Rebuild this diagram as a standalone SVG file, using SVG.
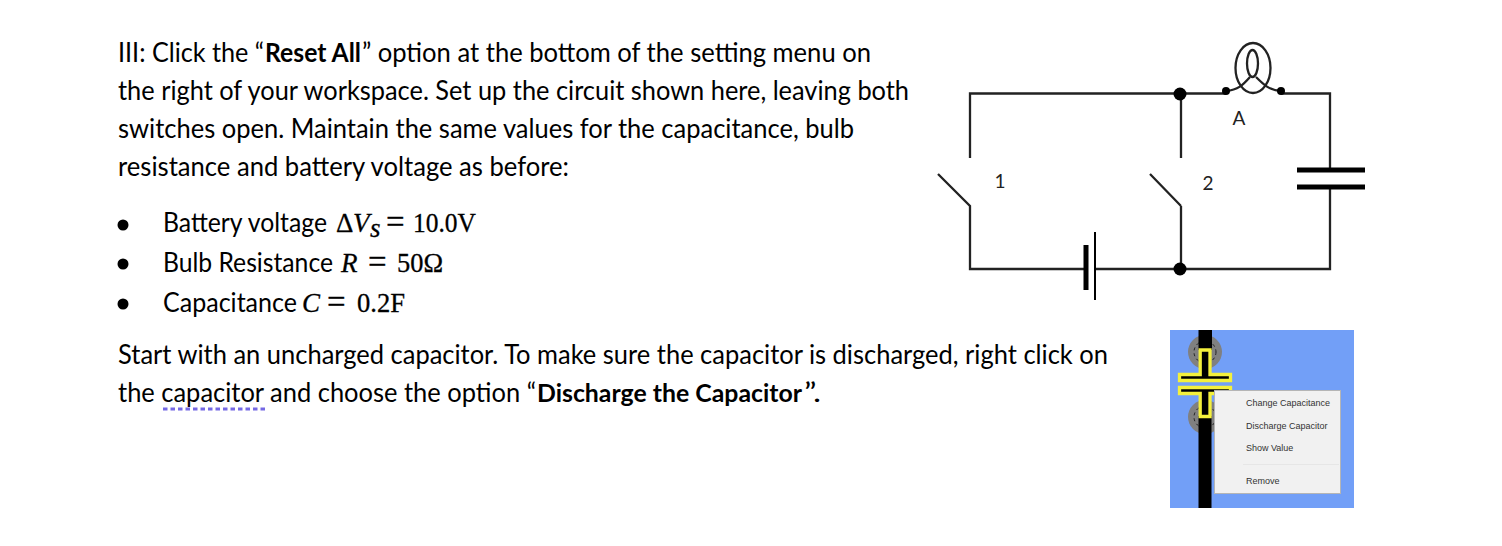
<svg xmlns="http://www.w3.org/2000/svg" width="1502" height="546" viewBox="0 0 1502 546">
<style>
.t{font-family:Lato,"Open Sans",sans-serif;font-size:26px;fill:#000}
.b{font-weight:700}
.m{font-family:"Liberation Serif","DejaVu Serif",serif;font-size:27px;fill:#000;stroke:#000;stroke-width:.3}
.e{font-size:33px}
.i{font-style:italic}
.w{fill:none;stroke:#222;stroke-width:2.300}
.l{font-family:Lato,"Liberation Sans",sans-serif;font-size:19px;fill:#222}
.c{font-family:"Liberation Sans",sans-serif;font-size:9px;fill:#333}
</style>
<rect width="1502" height="546" fill="#fff"/>
<g id="instructions">
<text class="t" x="118" y="62" textLength="146" lengthAdjust="spacingAndGlyphs">III: Click the “</text>
<text class="t b" x="265" y="62" textLength="96" lengthAdjust="spacingAndGlyphs">Reset All</text>
<text class="t" x="362" y="62" textLength="509" lengthAdjust="spacingAndGlyphs">” option at the bottom of the setting menu on</text>
<text class="t" x="118" y="100" textLength="791" lengthAdjust="spacingAndGlyphs">the right of your workspace. Set up the circuit shown here, leaving both</text>
<text class="t" x="118" y="138" textLength="736" lengthAdjust="spacingAndGlyphs">switches open. Maintain the same values for the capacitance, bulb</text>
<text class="t" x="118" y="176" textLength="451" lengthAdjust="spacingAndGlyphs">resistance and battery voltage as before:</text>
</g>
<g id="values">
<circle cx="123" cy="225" r="5.500"/><circle cx="123" cy="264" r="5.500"/><circle cx="123" cy="304" r="5.500"/>
<text class="t" x="163" y="232" textLength="164" lengthAdjust="spacingAndGlyphs">Battery voltage</text>
<text class="m" x="336" y="232">Δ</text>
<text class="m i" x="353" y="232">V</text>
<text class="m i" x="370" y="237" font-size="19">s</text>
<text class="m e" x="386" y="233">=</text>
<text class="m" x="413" y="232" textLength="63" lengthAdjust="spacingAndGlyphs">10.0V</text>
<text class="t" x="163" y="272" textLength="170" lengthAdjust="spacingAndGlyphs">Bulb Resistance</text>
<text class="m i" x="341" y="272">R</text>
<text class="m e" x="368" y="273">=</text>
<text class="m" x="397" y="272" textLength="46" lengthAdjust="spacingAndGlyphs">50Ω</text>
<text class="t" x="163" y="312" textLength="134" lengthAdjust="spacingAndGlyphs">Capacitance</text>
<text class="m i" x="302" y="312">C</text>
<text class="m e" x="327" y="313">=</text>
<text class="m" x="357" y="312" textLength="48" lengthAdjust="spacingAndGlyphs">0.2F</text>
</g>
<g id="closing">
<text class="t" x="118" y="364" textLength="990" lengthAdjust="spacingAndGlyphs">Start with an uncharged capacitor. To make sure the capacitor is discharged, right click on</text>
<text class="t" x="118" y="402" textLength="418" lengthAdjust="spacingAndGlyphs">the capacitor and choose the option “</text>
<text class="t b" x="537" y="402" font-size="25.500" style="font-size:25.500px" textLength="265" lengthAdjust="spacingAndGlyphs">Discharge the Capacitor</text>
<text class="t" x="804" y="402" textLength="17" lengthAdjust="spacingAndGlyphs">”.</text>
<line x1="163" y1="409" x2="265" y2="409" stroke="#7468e4" stroke-width="3" stroke-dasharray="4.500 3"/>
</g>
<g id="connectors">
<path class="w" d="M970 158V93.500H1226M1281 93.500H1330V170M1330 187V269H1095M1084 269H970V206L938 174"/>
<path class="w" d="M1181 94V158M1181 206L1150 174M1181 206V269"/>
</g>
<g id="junction-top"><circle cx="1180" cy="94" r="6.500" fill="#000"/></g>
<g id="junction-bottom"><circle cx="1180" cy="269" r="6.500" fill="#000"/></g>
<g id="bulb">
<ellipse cx="1253" cy="68" rx="17.500" ry="25" fill="none" stroke="#222" stroke-width="2.300"/>
<ellipse cx="1252.500" cy="63.500" rx="5.500" ry="13.500" fill="none" stroke="#222" stroke-width="2.300"/>
<path class="w" d="M1226 91C1238 90 1243 85 1250 77M1281 91C1269 90 1264 85 1256 77"/>
<circle cx="1226" cy="91" r="4" fill="#000"/><circle cx="1281" cy="91" r="4" fill="#000"/>
<text class="l" x="1239" y="125" text-anchor="middle">A</text>
</g>
<g id="switch-1"><text class="l" x="1000" y="188" text-anchor="middle">1</text></g>
<g id="switch-2"><text class="l" x="1208" y="190" text-anchor="middle">2</text></g>
<g id="capacitor">
<rect x="1297" y="167.500" width="68" height="5" fill="#000"/><rect x="1297" y="184.500" width="68" height="5" fill="#000"/>
</g>
<g id="battery">
<rect x="1083.500" y="245" width="5" height="45" fill="#000"/><rect x="1094" y="232" width="2" height="68" fill="#000"/>
</g>
<g id="screenshot">
<rect x="1170" y="330" width="184" height="178" fill="#729ff7"/>
<circle cx="1205" cy="352" r="17" fill="#808080"/><circle cx="1205" cy="417" r="17" fill="#808080"/>
<circle cx="1205" cy="352" r="11" fill="none" stroke="#222" stroke-dasharray="3 3"/><circle cx="1205" cy="417" r="11" fill="none" stroke="#222" stroke-dasharray="3 3"/>
<rect x="1198.500" y="330" width="13.500" height="20" fill="#000"/>
<rect x="1198.500" y="416" width="13" height="92" fill="#000"/>
<path d="M1200.200 350H1210V374.500H1230.500V380.500H1179.500V374.500H1200.200Z" fill="#000" stroke="#f4f03c" stroke-width="3.300"/>
<path d="M1179.500 387.500H1230.500V393.500H1210V416.500H1200.200V393.500H1179.500Z" fill="#000" stroke="#f4f03c" stroke-width="3.300"/>
<rect x="1214.500" y="390.500" width="126" height="103" fill="#f1f1f1" stroke="#b5b5b5"/>
<line x1="1243" y1="464.500" x2="1339" y2="464.500" stroke="#e6e6e6"/>
<text class="c" x="1246" y="406">Change Capacitance</text>
<text class="c" x="1246" y="429">Discharge Capacitor</text>
<text class="c" x="1246" y="451">Show Value</text>
<text class="c" x="1246" y="484">Remove</text>
</g>
</svg>
